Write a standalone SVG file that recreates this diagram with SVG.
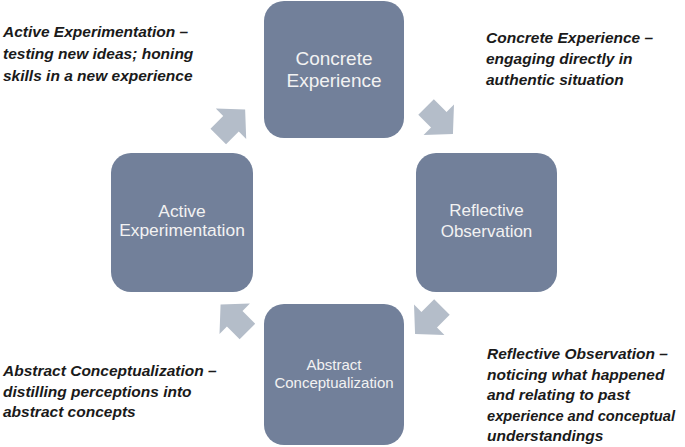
<svg xmlns="http://www.w3.org/2000/svg" width="685" height="447" viewBox="0 0 685 447">
<defs>
<style>
.box{fill:#72809a;}
.bt{fill:#f2f2f2;font-family:"Liberation Sans",Arial,sans-serif;text-anchor:middle;}
.arrow{fill:#b4bdc9;}
.note{fill:#1a1a1a;font-family:"Liberation Sans",Arial,sans-serif;font-weight:bold;font-style:italic;font-size:15.5px;}
</style>
<path id="arr" d="M-19,-11 H-1 V-21.5 L19,0 L-1,21.5 V11 H-19 Z"/>
</defs>
<rect width="685" height="447" fill="#ffffff"/>
<g id="connectors">
<use href="#arr" class="arrow" transform="translate(231.7,123) rotate(-45)"/>
<use href="#arr" class="arrow" transform="translate(439.5,120.5) rotate(45)"/>
<use href="#arr" class="arrow" transform="translate(428.5,320.5) rotate(135)"/>
<use href="#arr" class="arrow" transform="translate(234,318) rotate(-135)"/>
</g>
<g id="concrete-experience">
<rect class="box" x="264" y="1" width="140" height="137" rx="20"/>
<text class="bt" font-size="19" x="334" y="65">Concrete</text>
<text class="bt" font-size="19" x="334" y="87">Experience</text>
</g>
<g id="reflective-observation">
<rect class="box" x="416" y="153" width="141" height="139" rx="20"/>
<text class="bt" font-size="17" x="486.5" y="216">Reflective</text>
<text class="bt" font-size="17" x="486.5" y="237">Observation</text>
</g>
<g id="abstract-conceptualization">
<rect class="box" x="264" y="304" width="140" height="141" rx="20"/>
<text class="bt" font-size="15" x="334" y="370">Abstract</text>
<text class="bt" font-size="15" x="334" y="388">Conceptualization</text>
</g>
<g id="active-experimentation">
<rect class="box" x="111" y="153" width="142" height="139" rx="20"/>
<text class="bt" font-size="17.4" x="182" y="217">Active</text>
<text class="bt" font-size="17.4" x="182" y="236">Experimentation</text>
</g>
<g id="note-active">
<text class="note" x="3" y="37">Active Experimentation –</text>
<text class="note" x="3" y="59">testing new ideas; honing</text>
<text class="note" x="3" y="81">skills in a new experience</text>
</g>
<g id="note-concrete">
<text class="note" x="486" y="43">Concrete Experience –</text>
<text class="note" x="486" y="64">engaging directly in</text>
<text class="note" x="486" y="85">authentic situation</text>
</g>
<g id="note-abstract">
<text class="note" x="3" y="376">Abstract Conceptualization –</text>
<text class="note" x="3" y="397">distilling perceptions into</text>
<text class="note" x="3" y="417">abstract concepts</text>
</g>
<g id="note-reflective">
<text class="note" x="487" y="359">Reflective Observation –</text>
<text class="note" x="487" y="380">noticing what happened</text>
<text class="note" x="487" y="400">and relating to past</text>
<text class="note" x="487" y="421" textLength="188" lengthAdjust="spacingAndGlyphs">experience and conceptual</text>
<text class="note" x="487" y="441">understandings</text>
</g>
</svg>
